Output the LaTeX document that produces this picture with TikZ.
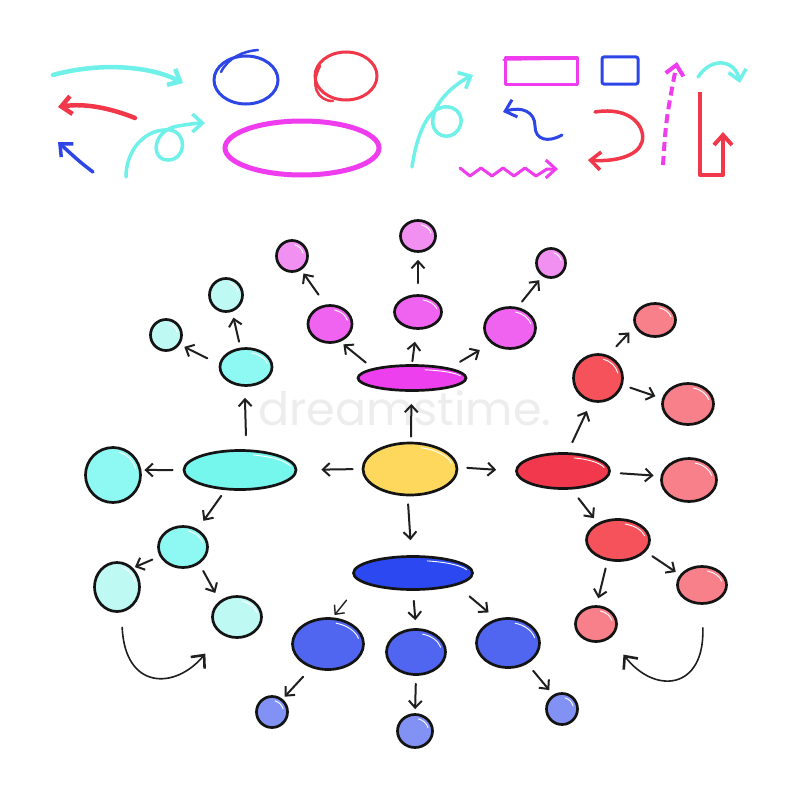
\documentclass[tikz,border=0pt]{standalone}
\usetikzlibrary{arrows.meta,shapes.geometric,calc}
\usepackage{fontspec}
\newfontfamily\wmfont{Poppins}
\definecolor{pcyan}{HTML}{6FF0E8}
\definecolor{pred}{HTML}{F0384A}
\definecolor{pblue}{HTML}{2E46E6}
\definecolor{pmag}{HTML}{EE3CEE}
\definecolor{yel}{HTML}{FDD85D}
\definecolor{magA}{HTML}{EE3FEE}
\definecolor{magB}{HTML}{F062F0}
\definecolor{magC}{HTML}{F290F2}
\definecolor{cyA}{HTML}{76F7EE}
\definecolor{cyB}{HTML}{8EF8F2}
\definecolor{cyC}{HTML}{BFF9F4}
\definecolor{blA}{HTML}{2C48F0}
\definecolor{blB}{HTML}{5066F0}
\definecolor{blC}{HTML}{8292F4}
\definecolor{rdA}{HTML}{F2384C}
\definecolor{rdB}{HTML}{F5525C}
\definecolor{rdC}{HTML}{F7808A}
\begin{document}
\begin{tikzpicture}[x=1pt,y=-1pt,
 bub/.style={ellipse, draw=black!92, line width=2.7pt, inner sep=0pt,
   path picture={\draw[white, line width=0.9pt, line cap=round] let \p1=(path picture bounding box.north east), \p2=(path picture bounding box.center) in
     ({\x2+(\x1-\x2-4pt)*cos(15)},{\y2+(\y1-\y2-4pt)*sin(15)}) arc[start angle=15, end angle=75, x radius={\x1-\x2-4pt}, y radius={\y1-\y2-4pt}];}},
 con/.style={draw=black!88, line width=2pt, line cap=round, -{Straight Barb[length=7pt,width=13pt]}},
 curv/.style={draw=black!88, line width=1.6pt, line cap=round, -{Straight Barb[length=10pt,width=18pt,line width=2.6pt]}},
 g/.style 2 args={shorten <=#1pt, shorten >=#2pt},
 pen/.style={line width=4.5pt, line cap=round, line join=round},
 tip/.style={-{Straight Barb[length=10pt,width=18pt]}},
]
\useasboundingbox[fill=white] (0,0) rectangle (800,800);

% watermark
\node[text=black!7, font=\wmfont\fontsize{46}{46}\selectfont] (wm) at (405,408) {dreamstime.};

% ---------- top sketches ----------
\draw[pen, pcyan, tip] (53,75) .. controls (100,62) and (150,66) .. (183,83);
\draw[pen, pred, tip] (135,118) .. controls (110,108) and (85,103) .. (58,107);
\draw[pen, line width=3.5pt, pblue, tip] (93,172) .. controls (80,162) .. (58,142);
\draw[pen, pcyan, line width=3.5pt, tip] (126,177) .. controls (126,150) and (145,128) .. (170,130) .. controls (188,133) and (186,160) .. (168,160) .. controls (150,160) and (152,130) .. (178,126) .. controls (190,124) and (198,123) .. (205,123);
\draw[pblue, line width=3pt] (246,80) ellipse [x radius=32, y radius=24];
\draw[pblue, line width=2.5pt, line cap=round] (221,72) .. controls (228,58) and (243,51) .. (258,50);
\draw[pred, line width=3pt] (346,76) ellipse [x radius=31, y radius=24];
\draw[pred, line width=2.5pt, line cap=round] (320,66) .. controls (310,85) and (317,101) .. (333,101);
\draw[pmag, line width=5pt] (302,148) ellipse [x radius=77, y radius=27];
\draw[pen, pcyan, line width=3.5pt, tip] (412,167) .. controls (416,140) and (424,118) .. (436,110) .. controls (452,100) and (468,115) .. (458,130) .. controls (450,142) and (430,136) .. (433,118) .. controls (436,100) and (455,84) .. (473,75);
\draw[pmag, line width=3pt, line join=round] (505,58) rectangle (577,84);
\draw[pmag, line width=1.5pt, line cap=round] (503,60) -- (578,59);
\draw[pblue, line width=3pt, rounded corners=2pt] (602,57) rectangle (638,84);
\draw[pblue, line width=3pt, line cap=round, tip] (562,135) .. controls (548,143) and (535,140) .. (535,126) .. controls (535,112) and (522,106) .. (503,112);
\draw[pmag, line width=3pt, line join=round, line cap=round, tip] (460,168) -- (470,176) -- (481,168) -- (492,176) -- (503,168) -- (514,176) -- (525,168) -- (536,176) -- (547,169) -- (558,169);
\draw[pred, line width=3.5pt, line cap=round, tip] (595,112) .. controls (632,106) and (646,128) .. (642,142) .. controls (638,156) and (615,162) .. (588,160);
\draw[pmag, line width=4pt, dash pattern=on 9pt off 5pt, tip] (663,165) .. controls (666,120) .. (677,62);
\draw[pcyan, line width=3.5pt, line cap=round, tip] (698,77) .. controls (712,56) and (735,60) .. (740,83);
\draw[pred, line width=4pt, line join=round, tip] (700,92) -- (700,175) -- (723,175) -- (723,132);

% ---------- mind map nodes ----------
\node[bub, fill=yel, minimum width=94pt, minimum height=52pt] (Y) at (410,469) {};
% magenta
\node[bub, fill=magA, minimum width=108pt, minimum height=25pt] (M) at (412,378) {};
\node[bub, fill=magB, minimum width=44pt, minimum height=37pt] (Ml) at (330,324) {};
\node[bub, fill=magB, minimum width=47pt, minimum height=33pt] (Mm) at (418,312) {};
\node[bub, fill=magB, minimum width=51pt, minimum height=41pt] (Mr) at (510,328) {};
\node[bub, fill=magC, minimum width=31pt, minimum height=31pt] (Tl) at (292,256) {};
\node[bub, fill=magC, minimum width=35pt, minimum height=31pt] (Tm) at (418,236) {};
\node[bub, fill=magC, minimum width=29pt, minimum height=29pt] (Tr) at (551,263) {};
% cyan
\node[bub, fill=cyA, minimum width=112pt, minimum height=39pt] (C) at (240,470) {};
\node[bub, fill=cyB, minimum width=55pt, minimum height=55pt] (Cl) at (113,475) {};
\node[bub, fill=cyB, minimum width=52pt, minimum height=37pt] (Cu) at (246,367) {};
\node[bub, fill=cyC, minimum width=33pt, minimum height=33pt] (Cst) at (226,295) {};
\node[bub, fill=cyC, minimum width=31pt, minimum height=31pt] (Csl) at (166,335) {};
\node[bub, fill=cyB, minimum width=49pt, minimum height=41pt] (Cml) at (183,547) {};
\node[bub, fill=cyC, minimum width=45pt, minimum height=49pt] (Cll) at (117,587) {};
\node[bub, fill=cyC, minimum width=49pt, minimum height=41pt] (Clr) at (237,617) {};
% blue
\node[bub, fill=blA, minimum width=119pt, minimum height=33pt] (B) at (413,573) {};
\node[bub, fill=blB, minimum width=71pt, minimum height=51pt] (Bl) at (328,644) {};
\node[bub, fill=blB, minimum width=59pt, minimum height=45pt] (Bm) at (416,652) {};
\node[bub, fill=blB, minimum width=63pt, minimum height=49pt] (Br) at (508,643) {};
\node[bub, fill=blC, minimum width=31pt, minimum height=31pt] (bsl) at (272,712) {};
\node[bub, fill=blC, minimum width=35pt, minimum height=33pt] (bsm) at (415,731) {};
\node[bub, fill=blC, minimum width=31pt, minimum height=31pt] (bsr) at (562,709) {};
% red
\node[bub, fill=rdA, minimum width=93pt, minimum height=35pt] (R) at (563,471) {};
\node[bub, fill=rdB, minimum width=49pt, minimum height=47pt] (Ru) at (598,378) {};
\node[bub, fill=rdC, minimum width=41pt, minimum height=33pt] (Rt) at (655,320) {};
\node[bub, fill=rdC, minimum width=51pt, minimum height=41pt] (Rru) at (688,404) {};
\node[bub, fill=rdC, minimum width=55pt, minimum height=43pt] (Rrm) at (689,480) {};
\node[bub, fill=rdB, minimum width=63pt, minimum height=41pt] (Rl) at (618,540) {};
\node[bub, fill=rdC, minimum width=49pt, minimum height=37pt] (Rlr) at (702,585) {};
\node[bub, fill=rdC, minimum width=41pt, minimum height=35pt] (Rll) at (596,624) {};

% ---------- connectors ----------
\draw[con, g={5}{12}] (Y.88) -- (M.268);
\draw[con, g={9}{24}] (Y.180) -- (C.0);
\draw[con, g={9}{19}] (Y.2) -- (R.180);
\draw[con, g={8}{15}] (Y.265) -- (B.95);

\draw[con, g={9}{4}] (M.166) -- (Ml.-60);
\draw[con, g={3}{12}] (M.90) -- (Mm.265);
\draw[con, g={12}{13}] (M.15) -- (Mr.219);
\draw[con, g={12}{4}] (Ml.103) -- (Tl.-57);
\draw[con, g={11}{7}] (Mm.90) -- (Tm.270);
\draw[con, g={7}{5}] (Mr.70) -- (Tr.237);

\draw[con, g={10}{3}] (C.180) -- (Cl.10);
\draw[con, g={14}{11}] (C.73) -- (Cu.266);
\draw[con, g={6}{6}] (Cu.106) -- (Cst.-70);
\draw[con, g={13}{5}] (Cu.174) -- (Csl.-35);
\draw[con, g={7}{10}] (C.234) -- (Cml.51);
\draw[con, g={8}{2}] (Cml.202) -- (Cll.50);
\draw[con, g={8}{9}] (Cml.-46) -- (Clr.137);

\draw[con, line width=1.4pt, g={23}{3}] (B.190) -- (Bl.80);
\draw[con, g={10}{8}] (B.270) -- (Bm.90);
\draw[con, g={17}{10}] (B.-16) -- (Br.116);
\draw[con, g={12}{3}] (Bl.235) -- (bsl.51);
\draw[con, g={8}{4}] (Bm.270) -- (bsm.90);
\draw[con, g={9}{6}] (Br.-47) -- (bsr.122);

\draw[con, g={11}{10}] (R.76) -- (Ru.254);
\draw[con, g={12}{8}] (Ru.66) -- (Rt.198);
\draw[con, g={8}{7}] (Ru.-16) -- (Rru.168);
\draw[con, g={10}{7}] (R.-2) -- (Rrm.172);
\draw[con, g={11}{6}] (R.-65) -- (Rl.140);
\draw[con, g={8}{5}] (Rl.-23) -- (Rlr.155);
\draw[con, g={8}{7}] (Rl.243) -- (Rll.88);

\draw[curv, g={15}{25}] (Cll.-80) .. controls (125,690) and (175,690) .. (Clr.228);
\draw[curv, g={23}{21}] (Rlr.-90) .. controls (705,690) and (655,695) .. (Rll.-44);
\end{tikzpicture}
\end{document}
